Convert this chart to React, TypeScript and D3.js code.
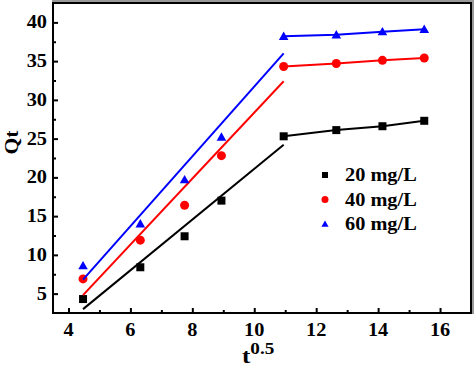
import React, { useRef, useEffect } from 'react';
import * as d3 from 'd3';

// sqrt(t) sampling points
const tHalf = [4.47, 6.32, 7.75, 8.94, 10.95, 12.65, 14.14, 15.49];

const series = ['20 mg/L', '40 mg/L', '60 mg/L'];
const colors = ['#000000', '#ff0000', '#0000ff'];
const shapes = ['square', 'circle', 'triangle'];

const q20 = [4.3, 8.4, 12.4, 17.0, 25.3, 26.1, 26.6, 27.3];
const q40 = [6.9, 11.9, 16.4, 22.8, 34.3, 34.7, 35.1, 35.4];
const q60 = [8.6, 14.0, 19.7, 25.2, 38.2, 38.4, 38.8, 39.1];

// first-stage fit lines: value at start / end of the range
const fitX = [4.47, 10.95];
const fit20 = [3.0, 24.2];
const fit40 = [4.8, 32.4];
const fit60 = [6.8, 36.0];

const xTicks = [4, 6, 8, 10, 12, 14, 16];
const yTicks = [5, 10, 15, 20, 25, 30, 35, 40];

const W = 474;
const H = 370;
const font = '"Liberation Serif", "Times New Roman", serif';
const stretch = 1.13; // the source text is a bit wide

export default function App() {
  const ref = useRef<SVGSVGElement>(null);

  useEffect(() => {
    const svg = d3.select(ref.current);
    svg.selectAll('*').remove();

    const margin = { top: 3, right: 3, bottom: 57, left: 53 };
    const x = d3.scaleLinear().domain([3.5, 17]).range([margin.left, W - margin.right]);
    const y = d3.scaleLinear().domain([2.5, 42.5]).range([H - margin.bottom, margin.top]);

    const values = [q20, q40, q60];
    const fits = [fit20, fit40, fit60];

    // frame shadow (gray) then frame
    svg.append('rect')
      .attr('x', margin.left).attr('y', margin.top - 2)
      .attr('width', W - margin.left - margin.right + 2).attr('height', H - margin.top - margin.bottom + 2)
      .attr('fill', 'none').attr('stroke', '#999').attr('stroke-width', 2);
    svg.append('rect')
      .attr('x', margin.left).attr('y', margin.top)
      .attr('width', W - margin.left - margin.right).attr('height', H - margin.top - margin.bottom)
      .attr('fill', 'none').attr('stroke', '#000').attr('stroke-width', 2);

    // inward ticks
    const xAxis = d3.axisTop(x).tickValues(xTicks).tickSize(5).tickFormat(() => '');
    const xMinor = d3.axisTop(x).tickValues(d3.range(5, 17, 2)).tickSize(3).tickFormat(() => '');
    const yAxis = d3.axisRight(y).tickValues(yTicks).tickSize(5).tickFormat(() => '');
    const yMinor = d3.axisRight(y).tickValues(d3.range(7.5, 42.5, 5)).tickSize(3).tickFormat(() => '');

    [xAxis, xMinor].forEach(ax => {
      const g = svg.append('g').attr('transform', `translate(0,${y(2.5)})`).call(ax);
      g.select('.domain').remove();
      g.selectAll('line').attr('stroke', '#000').attr('stroke-width', 2);
    });
    [yAxis, yMinor].forEach(ax => {
      const g = svg.append('g').attr('transform', `translate(${x(3.5)},0)`).call(ax);
      g.select('.domain').remove();
      g.selectAll('line').attr('stroke', '#000').attr('stroke-width', 2);
    });

    // tick labels
    svg.append('g').selectAll('text').data(xTicks).join('text')
      .attr('transform', d => `translate(${x(d)},${y(2.5) + 23}) scale(${stretch},1)`)
      .attr('text-anchor', 'middle')
      .attr('font-family', font).attr('font-weight', 'bold').attr('font-size', 18)
      .text(d => d);
    svg.append('g').selectAll('text').data(yTicks).join('text')
      .attr('transform', d => `translate(${x(3.5) - 6},${y(d) + 6}) scale(${stretch},1)`)
      .attr('text-anchor', 'end')
      .attr('font-family', font).attr('font-weight', 'bold').attr('font-size', 18)
      .text(d => d);

    // axis titles
    svg.append('text')
      .attr('transform', `translate(18,${y(24.5)}) rotate(-90) scale(1.2,1)`)
      .attr('text-anchor', 'middle')
      .attr('font-family', font).attr('font-weight', 'bold').attr('font-size', 18)
      .text('Qt');
    const xt = svg.append('text')
      .attr('transform', `translate(242,363) scale(${stretch},1)`)
      .attr('font-family', font).attr('font-weight', 'bold').attr('font-size', 22);
    xt.append('tspan').text('t');
    xt.append('tspan').attr('dy', -9).attr('font-size', 17).text('0.5');

    const line = d3.line<[number, number]>().x(d => x(d[0])).y(d => y(d[1]));

    const drawMarker = (g: any, shape: string, cx: number, cy: number, color: string, s: number) => {
      if (shape === 'square') {
        g.append('rect').attr('x', cx - s / 2).attr('y', cy - s / 2).attr('width', s).attr('height', s).attr('fill', color);
      } else if (shape === 'circle') {
        g.append('circle').attr('cx', cx).attr('cy', cy).attr('r', s / 2 + 0.5).attr('fill', color);
      } else {
        g.append('path')
          .attr('d', `M${cx},${cy - s * 0.6}L${cx + s * 0.6},${cy + s * 0.45}L${cx - s * 0.6},${cy + s * 0.45}Z`)
          .attr('fill', color);
      }
    };

    values.forEach((vals, i) => {
      const g = svg.append('g');
      // first-stage fit
      g.append('path')
        .attr('d', line([[fitX[0], fits[i][0]], [fitX[1], fits[i][1]]]))
        .attr('stroke', colors[i]).attr('stroke-width', 2).attr('fill', 'none');
      // second-stage line through points
      const pts = tHalf.slice(4).map((t, k) => [t, vals[4 + k]] as [number, number]);
      g.append('path')
        .attr('d', line(pts))
        .attr('stroke', colors[i]).attr('stroke-width', 2).attr('fill', 'none');
      tHalf.forEach((t, k) => drawMarker(g, shapes[i], x(t), y(vals[k]), colors[i], 8));
    });

    // legend
    const lg = svg.append('g');
    series.forEach((s, i) => {
      const cy = 175 + i * 24.5;
      drawMarker(lg, shapes[i], 325, cy, colors[i], 6);
      lg.append('text')
        .attr('transform', `translate(345,${cy + 6}) scale(${stretch},1)`)
        .attr('font-family', font).attr('font-weight', 'bold').attr('font-size', 18)
        .text(s);
    });
  }, []);

  return (
    <svg ref={ref} width={W} height={H}
      style={{ position: 'absolute', left: 0, top: 0, background: '#fff' }} />
  );
}
